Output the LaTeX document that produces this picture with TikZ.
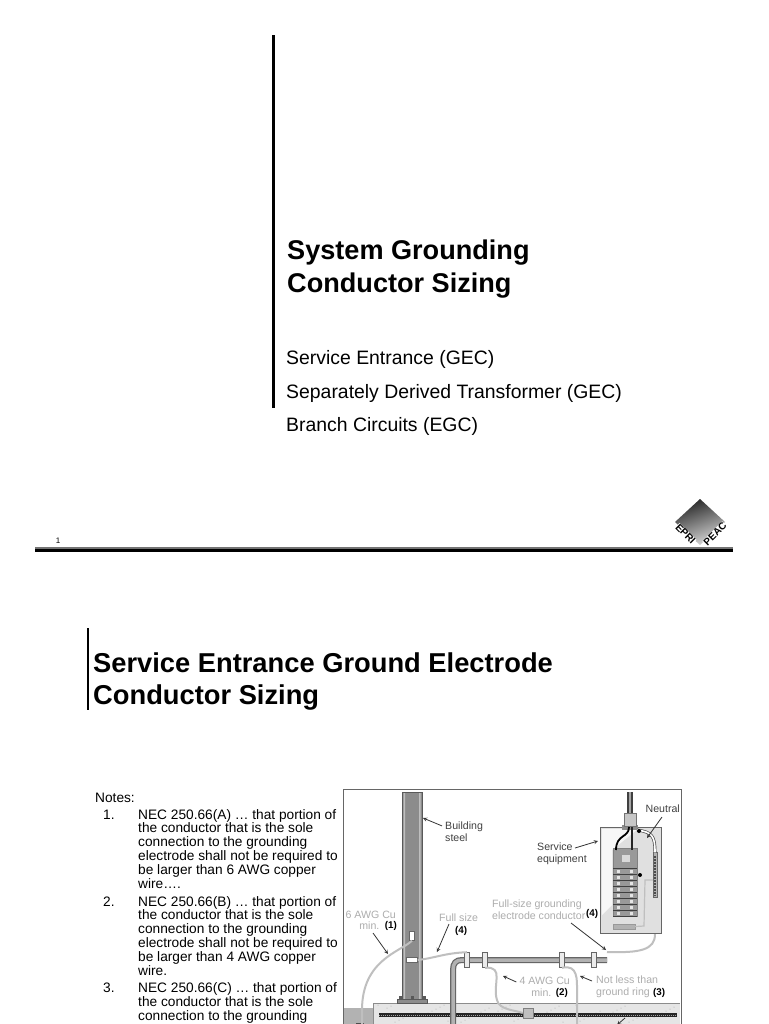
\documentclass[tikz,border=0pt]{standalone}
\usepackage{fontspec}
\setmainfont{Liberation Sans}
\usepackage{tikz}
\usetikzlibrary{positioning}
\definecolor{steelgray}{gray}{0.55}
\definecolor{steeldark}{gray}{0.35}
\definecolor{pipegray}{gray}{0.7}
\definecolor{wiregray}{gray}{0.75}
\definecolor{labelgray}{gray}{0.68}
\definecolor{soilgray}{gray}{0.7}
\tikzset{
	slidetitle/.style={anchor=base west,font=\fontsize{27.1}{32}\bfseries\selectfont,inner sep=0pt},
	slideline/.style={anchor=base west,font=\fontsize{19.4}{23}\selectfont,inner sep=0pt},
	notetext/.style={anchor=north west,align=left,font=\fontsize{13.7}{13.85}\selectfont,inner sep=0pt},
	notenum/.style={anchor=base west,font=\fontsize{13.7}{13.85}\selectfont,inner sep=0pt},
	darklabel/.style={align=left,font=\fontsize{10.6}{12}\selectfont,text=black!75,inner sep=0pt},
	graylabel/.style={align=left,font=\fontsize{10.6}{12.2}\selectfont,text=labelgray,inner sep=0pt},
	reflabel/.style={font=\fontsize{9.8}{12}\bfseries\selectfont,inner sep=0pt},
	pointer/.style={->,>=stealth,line width=0.8pt,black!80},
	wire/.style={wiregray,line width=2pt},
	clampbox/.style={draw=black!60,fill=black!8,line width=0.6pt,minimum width=5pt,minimum height=15pt,inner sep=0pt},
	logotext/.style={font=\fontsize{10}{10}\bfseries\selectfont,fill=white,inner sep=0.2pt},
}
\begin{document}
\begin{tikzpicture}[x=1pt,y=-1pt]
	\useasboundingbox (0,0) rectangle (768,1024);
	\clip (0,0) rectangle (768,1024);
	\fill[white] (0,0) rectangle (768,1024);
	%First slide
	\fill[black] (272,35) rectangle (275,408);
	\node[slidetitle] (sysone) at (287,259) {System Grounding};
	\node[slidetitle] (systwo) at (287,292) {Conductor Sizing};
	\node[slideline] (itemone) at (286,364) {Service Entrance (GEC)};
	\node[slideline] (itemtwo) at (286,398) {Separately Derived Transformer (GEC)};
	\node[slideline] (itemthree) at (286,431) {Branch Circuits (EGC)};
	\node[anchor=base,font=\fontsize{8}{9}\selectfont,inner sep=0pt] (pageno) at (58,543) {1};
	\fill[black!55] (35,547) rectangle (733,549);
	\fill[black] (35,549) rectangle (733,552);
	%Logo
	\shade[left color=black!85,right color=black!15,shading angle=20] (700,499) -- (725,522) -- (700,545) -- (675,522) -- cycle;
	\node[logotext,rotate=-45] (logoepri) at (685.5,534) {EPRI};
	\node[logotext,rotate=45] (logopeac) at (715,534) {PEAC};
	%Second slide
	\fill[black] (86.5,628) rectangle (89,710);
	\node[slidetitle,font=\fontsize{27.3}{32}\bfseries\selectfont] (sectone) at (93,672) {Service Entrance Ground Electrode};
	\node[slidetitle,font=\fontsize{27.3}{32}\bfseries\selectfont] (secttwo) at (93,704) {Conductor Sizing};
	%Notes
	\node[notenum] (notes) at (95,802) {Notes:};
	\node[notenum] (numone) at (103,819) {1.};
	\node[notetext] (noteone) at (138,809) {NEC 250.66(A) … that portion of\\the conductor that is the sole\\connection to the grounding\\electrode shall not be required to\\be larger than 6 AWG copper\\wire….};
	\node[notenum] (numtwo) at (103,906) {2.};
	\node[notetext] (notetwo) at (138,896) {NEC 250.66(B) … that portion of\\the conductor that is the sole\\connection to the grounding\\electrode shall not be required to\\be larger than 4 AWG copper\\wire.};
	\node[notenum] (numthree) at (103,992.5) {3.};
	\node[notetext] (notethree) at (138,982.5) {NEC 250.66(C) … that portion of\\the conductor that is the sole\\connection to the grounding};
	%Frame
	\draw[black!60,line width=0.8pt] (343,789) rectangle (681,1030);
	%Ground
	\fill[soilgray] (344,1008) rectangle (373,1024);
	\fill[black!10] (373,1003) rectangle (680,1024);
	\draw[black!45,line width=0.5pt] (373,1024) -- (373,1003) -- (680,1003);
	\foreach \x in {0,...,60}
		\fill[black!35] ({378+mod(\x*37,300)},{1005+mod(\x*7,18)}) circle (0.5pt);
	\draw[black!85,line width=3.5pt] (379,1015) -- (677,1015);
	\draw[black!35,line width=1pt,dash pattern=on 1pt off 1pt] (379,1015) -- (677,1015);
	\fill[black!70] (356,1023) rectangle (364,1026);
	%Column
	\fill[steelgray] (402,792) rectangle (422,1000);
	\fill[black!25] (403.5,792) rectangle (405,1000) (419,792) rectangle (420.5,1000);
	\draw[steeldark,line width=0.6pt] (402,792) rectangle (422,1000);
	\fill[steelgray,draw=steeldark,line width=0.5pt] (397,999) rectangle (427,1003);
	\foreach \x in {399,411,423}
		\fill[steeldark] (\x,996) rectangle +(3,3);
	%Pipe
	\def\pipepath{(607,960) -- (462,960) .. controls (456,960) and (453,963) .. (453,970) -- (453,1030)}
	\draw[black!60,line width=6pt] \pipepath;
	\draw[pipegray,line width=3.5pt] \pipepath;
	%Clamps
	\foreach \name/\x in {clampa/467,clampb/485,clampc/562,clampd/594}
		\node[clampbox] (\name) at (\x,960) {};
	\node[draw=black!60,fill=white,minimum width=5pt,minimum height=9pt,inner sep=0pt] (clampe) at (412,936) {};
	\node[draw=black!60,fill=white,minimum width=11pt,minimum height=5pt,inner sep=0pt] (clampf) at (412,960) {};
	\node[draw=black!50,fill=black!25,minimum width=10pt,minimum height=10pt,inner sep=0pt] (rodbox) at (528,1013) {};
	%Panel
	\node[draw=black!60,fill=black!12,line width=1.2pt,minimum width=61pt,minimum height=106pt,inner sep=0pt] (panel) at (631,880.5) {};
	\fill[black!3] (602,829) -- (638,829) -- (612,850) -- (612,905) -- (602,915) -- cycle;
	\fill[black!45] (622,825) rectangle (638,830);
	\fill[black!22,draw=black!55,line width=0.4pt] (624,813) rectangle (636,826);
	\fill[black!75] (627,792) rectangle (633,813);
	\fill[black!35] (629,792) rectangle (631,813);
	\node[draw=black!50,fill=black!40,minimum width=24pt,minimum height=68pt,inner sep=0pt] (breakers) at (625,882) {};
	\fill[black!15] (622,855) rectangle (630,862);
	\foreach \y in {868,874,...,916}
		\draw[black!75,line width=0.5pt] (613,\y) -- (637,\y);
	\foreach \y in {870,876,...,912} {
		\fill[black!10] (617,\y) rectangle +(3,2.5);
		\fill[black!10] (630,\y) rectangle +(3,2.5);
	}
	\node[draw=black!60,fill=black!30,minimum width=4pt,minimum height=45pt,inner sep=0pt] (neutralbar) at (655,875) {};
	\draw[black!70,line width=1.5pt,dash pattern=on 1.5pt off 1.5pt] (655,856) -- (655,896);
	\node[draw=black!40,fill=black!30,minimum width=22pt,minimum height=5pt,inner sep=0pt] (gndbar) at (624,926.5) {};
	\draw[black,line width=1.8pt] (629,827) .. controls (629,838) and (616,834) .. (616,850);
	\draw[black!85,line width=1.8pt] (632,827) -- (632,850);
	\draw[black!70,line width=3pt] (637,830) .. controls (652,832) and (655,836) .. (neutralbar.north);
	\draw[white,line width=1.6pt] (637,830) .. controls (652,832) and (655,836) .. (neutralbar.north);
	\fill[black] (639,831) circle (2pt) (640,875) circle (2pt);
	\draw[wiregray,line width=1.2pt] (gndbar.east) -- (644,926) -- (645,880) -- (653,880);
	%Wires
	\coordinate (gecstart) at (607,952);
	\draw[wire] (clampe.south) .. controls (400,952) and (362,960) .. (362,1010) -- (362,1024);
	\draw[wire] (clampf.east) .. controls (435,958) and (445,953) .. (clampa.north);
	\draw[wire] (clampb.south) .. controls (505,966) and (492,985) .. (497,1000) .. controls (499,1010) and (515,1010) .. (rodbox.west);
	\draw[wire] (clampc.south) .. controls (578,964) and (577,980) .. (577,990) -- (577,1026);
	\draw[wire] (gecstart) .. controls (640,953) and (655,950) .. (panel.south -| neutralbar);
	%Labels
	\node[darklabel,anchor=west] (steellabel) at (445,832) {Building\\steel};
	\node[darklabel,anchor=east] (neutrallabel) at (680,809) {Neutral};
	\node[darklabel,anchor=west] (servicelabel) at (537,854) {Service\\equipment};
	\node[graylabel,anchor=west] (geclabel) at (492,909.5) {Full-size grounding\\electrode conductor};
	\node[reflabel,anchor=west] (gecref) at (586,913.5) {(4)};
	\node[graylabel,anchor=east] (sixlabel) at (396,915) {6 AWG Cu};
	\node[reflabel,anchor=east] (sixref) at (397,926) {(1)};
	\node[graylabel,left=5pt of sixref] (sixmin) {min.};
	\node[graylabel,anchor=west] (fulllabel) at (439,918) {Full size};
	\node[reflabel,anchor=west] (fullref) at (455,931) {(4)};
	\node[graylabel,anchor=east] (fourlabel) at (570,981) {4 AWG Cu};
	\node[reflabel,anchor=east] (fourref) at (568,993) {(2)};
	\node[graylabel,left=4pt of fourref] (fourmin) {min.};
	\node[graylabel,anchor=west] (ringlabel) at (596,987) {Not less than\\ground ring};
	\node[reflabel,anchor=west] (ringref) at (653,993) {(3)};
	%Arrows
	\coordinate (steeltip) at (423,818);
	\coordinate (neutraltip) at (647,838);
	\coordinate (neutraltail) at (662,817);
	\coordinate (servicetip) at (598,841);
	\coordinate (servicetail) at (575,848);
	\coordinate (gectail) at (571,923);
	\coordinate (gectip) at (606,950);
	\coordinate (sixtail) at (373,933);
	\coordinate (sixtip) at (388,954);
	\coordinate (fulltail) at (449,924);
	\coordinate (fulltip) at (437,952);
	\coordinate (fourtip) at (503,976);
	\coordinate (ringtip) at (580,976);
	\coordinate (slabtail) at (625,1018);
	\coordinate (slabtip) at (617,1025);
	\draw[pointer] (steellabel.north west) ++(-3,4) -- (steeltip);
	\draw[pointer] (neutraltail) -- (neutraltip);
	\draw[pointer] (servicetail) -- (servicetip);
	\draw[pointer] (gectail) -- (gectip);
	\draw[pointer] (sixtail) -- (sixtip);
	\draw[pointer] (fulltail) -- (fulltip);
	\draw[pointer] (fourlabel.west) ++(-3,1) -- (fourtip);
	\draw[pointer] (ringlabel.west) ++(-4,-6) -- (ringtip);
	\draw[pointer] (slabtail) -- (slabtip);
\end{tikzpicture}
\end{document}
